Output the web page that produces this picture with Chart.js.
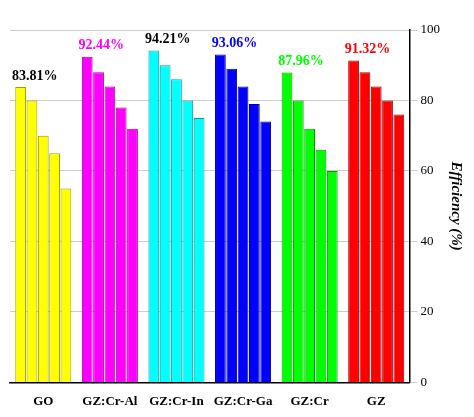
<!DOCTYPE html>
<html><head><meta charset="utf-8">
<script src="https://cdn.jsdelivr.net/npm/chart.js@4"></script>
<style>html,body{margin:0;background:#fff}#w{width:474px;height:417px}</style>
</head><body><div id="w"><canvas id="c"></canvas></div>
<script>
const materials=["GO","GZ:Cr-Al","GZ:Cr-In","GZ:Cr-Ga","GZ:Cr","GZ"];
const cycles=["Cycle I","Cycle II","Cycle III","Cycle IV","Cycle V"];
const cycleI=[83.81,92.44,94.21,93.06,87.96,91.32];
const cycleII=[80,88,90,89,80,88];
const cycleIII=[70,84,86,84,72,84];
const cycleIV=[65,78,80,79,66,80];
const cycleV=[55,72,75,74,60,76];
const topLabels=["83.81%","92.44%","94.21%","93.06%","87.96%","91.32%"];
const fills=["#ffff00","#ff00ff","#00ffff","#0000ff","#00ff00","#ff0000"];
const edges=["#a0a000","#a000a0","#00a0a0","#0000a0","#00a000","#a00000"];
const labelColors=["#000","#ff00ff","#000","#0000ff","#00ff00","#ff0000"];
const series=[cycleI,cycleII,cycleIII,cycleIV,cycleV];
const labelPlugin={id:'tl',afterDatasetsDraw(ch){const ctx=ch.ctx;const m=ch.getDatasetMeta(0);
ctx.save();ctx.font='bold 14px "Liberation Serif"';ctx.textAlign='center';ctx.textBaseline='bottom';
m.data.forEach((b,i)=>{ctx.fillStyle=labelColors[i];ctx.fillText(topLabels[i],b.x+14,b.y-4);});ctx.restore();}};
new Chart(document.getElementById('c'),{type:'bar',
data:{labels:materials,datasets:series.map((s,k)=>({label:cycles[k],data:s,backgroundColor:fills,borderColor:edges,borderWidth:1,categoryPercentage:0.85,barPercentage:0.95}))},
options:{responsive:true,maintainAspectRatio:false,animation:false,
layout:{padding:{top:30,left:10,right:5,bottom:5}},
plugins:{legend:{display:false},tooltip:{enabled:false}},
scales:{x:{grid:{display:false},border:{color:'#000',width:1.5},ticks:{color:'#000',font:{family:'Liberation Serif',weight:'bold',size:13}}},
y:{position:'right',min:0,max:100,ticks:{stepSize:20,color:'#000',font:{family:'Liberation Serif',size:13}},grid:{color:'#ccc'},border:{color:'#000',width:1.5},
title:{display:true,text:'Efficiency (%)',color:'#000',font:{family:'Liberation Serif',weight:'bold',style:'italic',size:15}}}}},
plugins:[labelPlugin]});
</script></body></html>
